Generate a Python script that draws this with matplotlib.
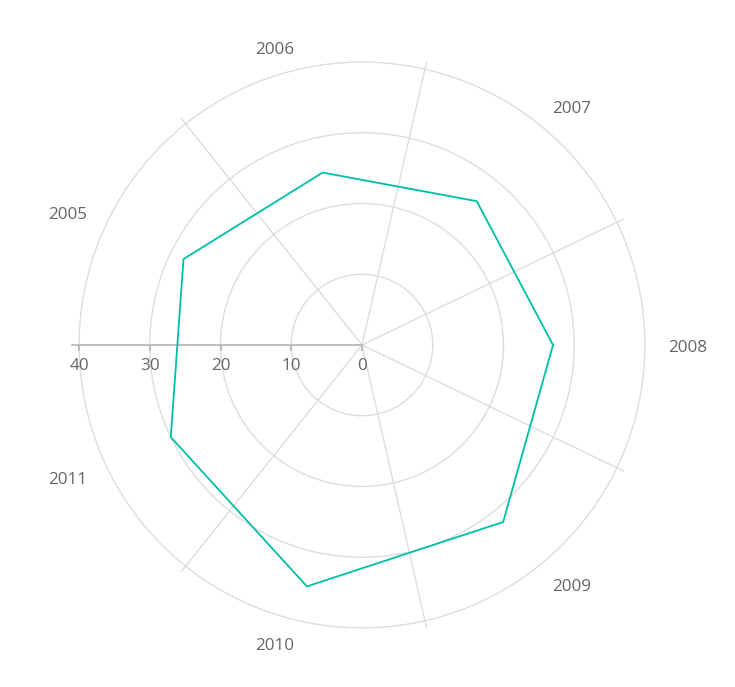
import numpy as np
import matplotlib
matplotlib.use("Agg")
import matplotlib.pyplot as plt

years = ["2008", "2007", "2006", "2005", "2011", "2010", "2009"]
values = [27, 26, 25, 28, 30, 35, 32]
rings = [10, 20, 30, 40]
ring_labels = ["0", "10", "20", "30", "40"]

plt.rcParams['font.family'] = ['Open Sans', 'DejaVu Sans']

n = len(years)
step = 2 * np.pi / n
theta = np.arange(n) * step  # 2008 sits on the right

fig = plt.figure(figsize=(7.35, 6.87), dpi=100)
ax = fig.add_axes([79/735, 59/687, 566/735, 566/687], projection='polar')
ax.set_ylim(0, 40)
ax.set_theta_offset(0)

# rings
ax.set_yticks(rings)
ax.set_yticklabels([])
ax.set_xticks([])
ax.yaxis.grid(True, color='#dddddd', lw=1)
ax.spines['polar'].set_color('#dddddd')
ax.tick_params(length=0)

# spokes between categories, poking out past the outer ring a bit
for s in theta + step / 2:
    if np.isclose(s, np.pi):
        continue
    ax.plot([s, s], [0, 41], color='#dddddd', lw=1, clip_on=False, zorder=1)

# left value axis with small ticks
ax.plot([np.pi, np.pi], [0, 41], color='#b3b3b3', lw=1.2, zorder=3, clip_on=False)
ax.plot([np.pi] * 5, [0] + rings, ls='none', marker=3, ms=4,
        mew=1.2, color='#b3b3b3', zorder=3, clip_on=False)
for r, lab in zip([0] + rings, ring_labels):
    ax.annotate(lab, xy=(np.pi, r), xytext=(0, -9.3), textcoords='offset points',
                ha='center', va='top', fontsize=12.3, color='#666666',
                annotation_clip=False)

# category labels
for t, y in zip(theta, years):
    c = np.cos(t)
    ha = 'left' if c > 0.05 else ('right' if c < -0.05 else 'center')
    ax.annotate(y, xy=(t, 43.2), xytext=(0, -2), textcoords='offset points',
                ha=ha, va='center', fontsize=12.3, color='#666666',
                annotation_clip=False)

vals = values + values[:1]
th = np.append(theta, theta[0])
ax.plot(th, vals, color='#00bfa5', lw=1.3, zorder=4)

fig.savefig("out.png", dpi=100)
